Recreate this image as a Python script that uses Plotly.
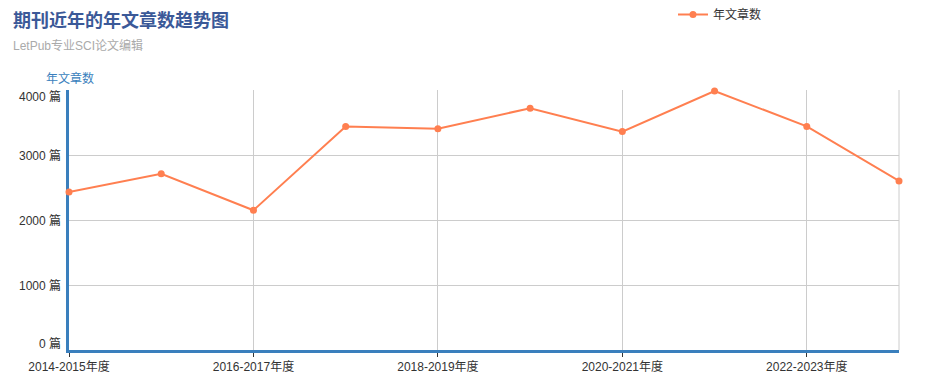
import plotly.graph_objects as go

categories = ["2014-2015年度", "2015-2016年度", "2016-2017年度", "2017-2018年度", "2018-2019年度",
              "2019-2020年度", "2020-2021年度", "2021-2022年度", "2022-2023年度", "2023-2024年度"]
values = [2430, 2710, 2150, 3440, 3405, 3720, 3360, 3985, 3440, 2600]
y_ticks = [0, 1000, 2000, 3000, 4000]
y_suffix = " 篇"
series_name = "年文章数"

FONT = "Liberation Sans, Arial, Noto Sans CJK SC, sans-serif"
BLUE = "#3a7fbd"
CORAL = "#ff7f50"

L, R, T, B = 69, 37, 90, 33
W, H = 936, 383
pw = W - L - R
ph = H - T - B

fig = go.Figure()
fig.add_trace(go.Scatter(
    x=list(range(len(categories))), y=values, name=series_name,
    mode="lines+markers",
    line=dict(color=CORAL, width=2),
    marker=dict(color=CORAL, size=7),
    cliponaxis=False,
))

def px_x(x):
    return (x - L) / pw

def px_y(y):
    return (H - B - y) / ph

annotations = [
    dict(text="<b>期刊近年的年文章数趋势图</b>", x=px_x(11), y=px_y(20), xref="paper", yref="paper",
         showarrow=False, font=dict(size=18, color="#3b5998"), xanchor="left", yanchor="middle"),
    dict(text="LetPub专业SCI论文编辑", x=px_x(11), y=px_y(46), xref="paper", yref="paper", showarrow=False,
         font=dict(size=12, color="#aaaaaa"), xanchor="left", yanchor="middle"),
    dict(text=series_name, x=px_x(70), y=px_y(79), xref="paper", yref="paper", showarrow=False,
         font=dict(size=12, color=BLUE), xanchor="center", yanchor="middle"),
]
# y tick labels (echarts-style: top label nudged down, bottom nudged up)
for v in y_ticks:
    shift = 0
    if v == max(y_ticks):
        shift = -6
    elif v == min(y_ticks):
        shift = 7
    annotations.append(dict(text=f"{v}{y_suffix}", x=px_x(63), y=v, xref="paper", yref="y",
                            showarrow=False, xanchor="right", yanchor="middle", yshift=shift,
                            font=dict(size=12, color="#333")))

fig.update_layout(
    width=W, height=H,
    margin=dict(l=L, r=R, t=T, b=B, autoexpand=False),
    plot_bgcolor="white", paper_bgcolor="white",
    font=dict(family=FONT, size=12, color="#333"),
    showlegend=True,
    legend=dict(orientation="h", x=0.719, y=1.0, xref="container", yref="container",
                xanchor="left", yanchor="top", font=dict(size=12, color="#333"),
                bgcolor="rgba(0,0,0,0)"),
    xaxis=dict(
        range=[0, len(categories) - 1],
        tickvals=list(range(0, len(categories), 2)),
        ticktext=[categories[i] for i in range(0, len(categories), 2)],
        showgrid=True, gridcolor="#cccccc", gridwidth=1,
        showline=True, linecolor=BLUE, linewidth=3,
        ticks="outside", ticklen=4, tickcolor="#333",
        tickfont=dict(size=12, color="#333"),
        zeroline=False, layer="below traces",
    ),
    yaxis=dict(
        range=[0, 4000],
        tickvals=y_ticks,
        showticklabels=False,
        showgrid=True, gridcolor="#cccccc", gridwidth=1,
        showline=True, linecolor=BLUE, linewidth=3,
        ticks="",
        zeroline=False, layer="below traces",
    ),
    annotations=annotations,
    shapes=[
        dict(type="line", xref="paper", yref="paper", x0=1, x1=1, y0=0, y1=1,
             line=dict(color="#cccccc", width=1), layer="below"),
    ],
)

fig.write_html("out.html", config={"displayModeBar": False},
               post_script="document.body.style.margin='0px';")
